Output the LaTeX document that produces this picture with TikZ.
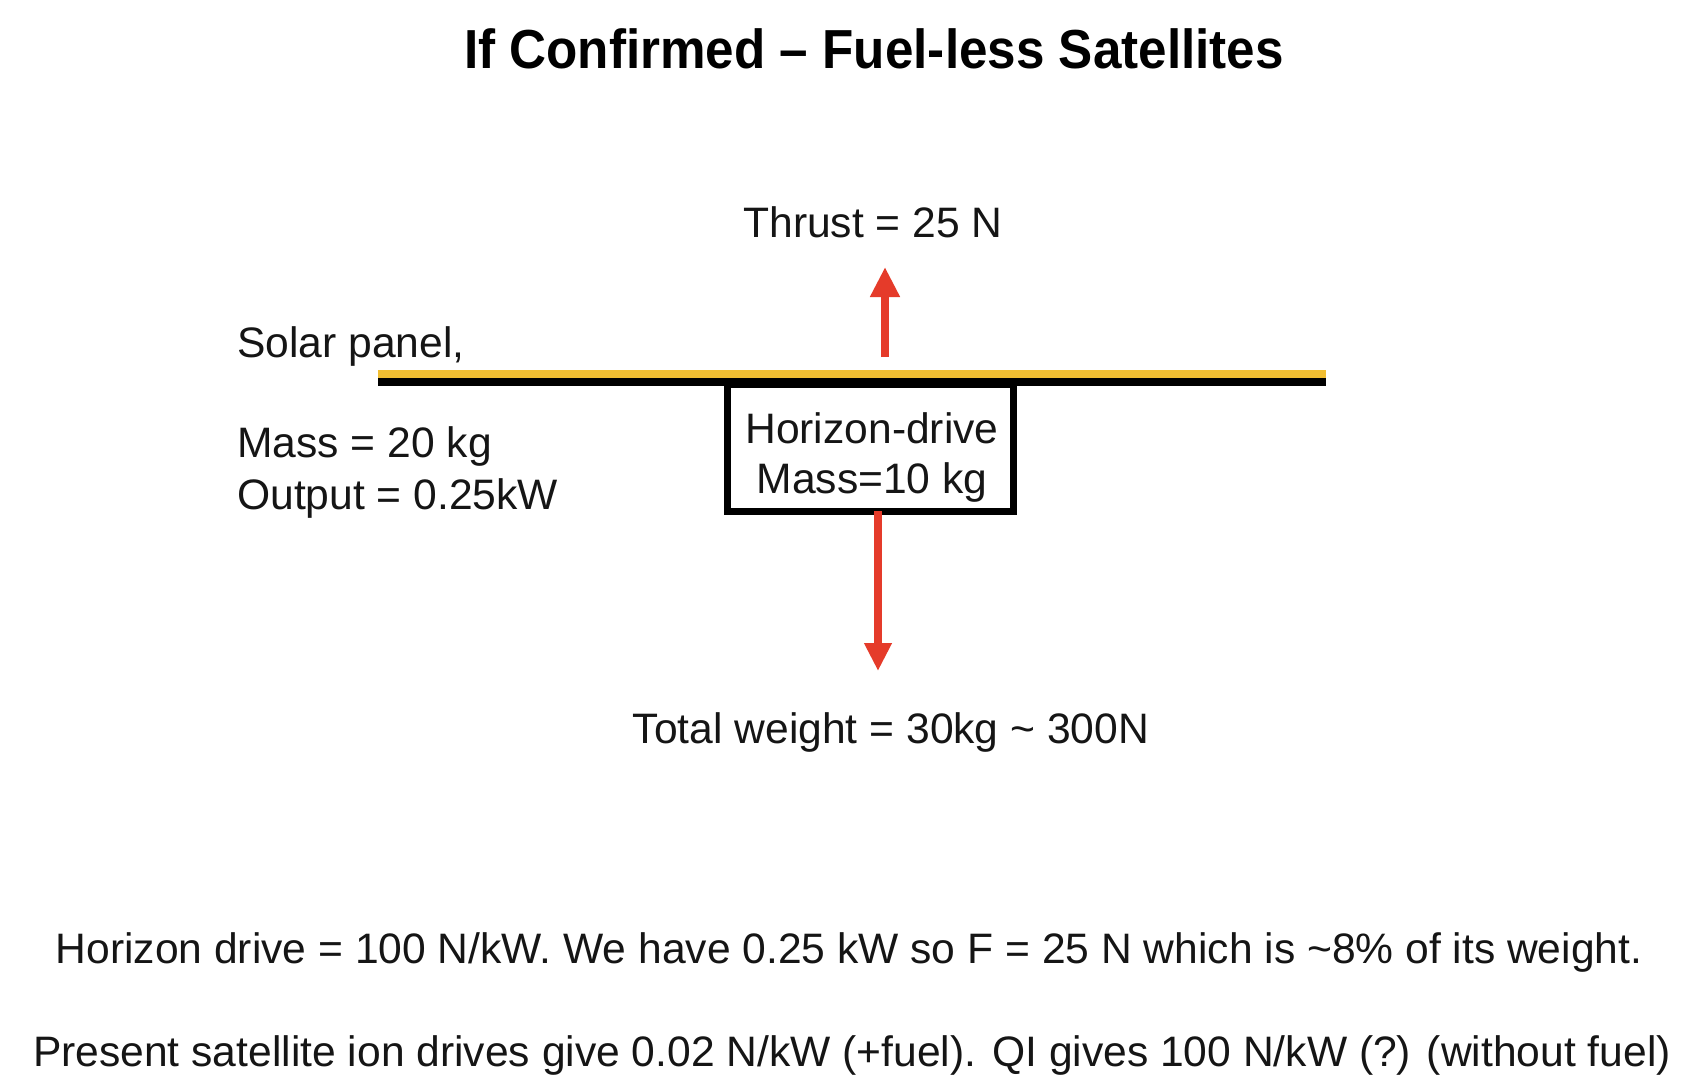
\documentclass[tikz,border=0pt]{standalone}
\usepackage{fontspec}
\setmainfont{Liberation Sans}
\usetikzlibrary{arrows.meta}
\definecolor{txt}{HTML}{151515}
\definecolor{panelyellow}{HTML}{F1BE32}
\definecolor{arrowred}{HTML}{E53B2A}
\tikzset{
  body/.style={anchor=base, inner sep=0pt, text=txt, font=\fontsize{42.6}{50}\selectfont},
  bodyleft/.style={body, anchor=base west},
  titlefont/.style={anchor=base, inner sep=0pt, text=black, font=\fontsize{55}{62}\selectfont\bfseries},
  force/.style={draw=arrowred, line width=8.5pt},
  upforce/.style={force, -{Triangle[width=28pt,length=30pt]}},
  downforce/.style={force, line width=7.5pt, -{Triangle[width=26pt,length=28pt]}},
  drivebox/.style={draw=black, line width=7pt, fill=white, minimum width=286pt, minimum height=127pt, inner sep=0pt},
}
\begin{document}
\begin{tikzpicture}[x=1pt,y=-1pt]
\useasboundingbox[fill=white] (0,0) rectangle (1688,1088);
% title
\node[titlefont] (title) at (874,68) {\scalebox{0.931}[1]{If Confirmed – Fuel-less Satellites}};
% solar panel
\coordinate (pl) at (378,374);
\coordinate (pr) at (1326,374);
\coordinate (bl) at (378,382);
\coordinate (br) at (1326,382);
\draw[panelyellow, line width=8pt] (pl) -- (pr);
\draw[black, line width=8pt] (bl) -- (br);
% drive box
\node[drivebox] (drive) at (870.5,448) {};
\node[body] (drivename) at (872,443) {Horizon-drive};
\node[body] (drivemass) at (872,493) {Mass=10 kg};
% arrows
\coordinate (upstart) at (885,357);
\coordinate (uptip) at (885,267);
\draw[upforce] (upstart) -- (uptip);
\coordinate (downstart) at (878,511);
\coordinate (downtip) at (878,671);
\draw[downforce] (downstart) -- (downtip);
% labels
\node[body] (thrust) at (873,237) {Thrust = 25 N};
\node[body] (weight) at (891,743) {Total weight = 30kg \textasciitilde{} 300N};
\node[bodyleft] (solar) at (237,357) {Solar panel,};
\node[bodyleft] (mass) at (237,457) {Mass = 20 kg};
\node[bodyleft] (output) at (237,509) {Output = 0.25kW};
% bottom lines
\node[body] (line1) at (849,963) {Horizon drive = 100 N/kW. We have 0.25 kW so F = 25 N which is \textasciitilde8\% of its weight.};
\node[body] (line2) at (852,1066) {Present satellite ion drives give 0.02 N/kW (+fuel). QI gives 100 N/kW (?) (without fuel)};
\end{tikzpicture}
\end{document}
